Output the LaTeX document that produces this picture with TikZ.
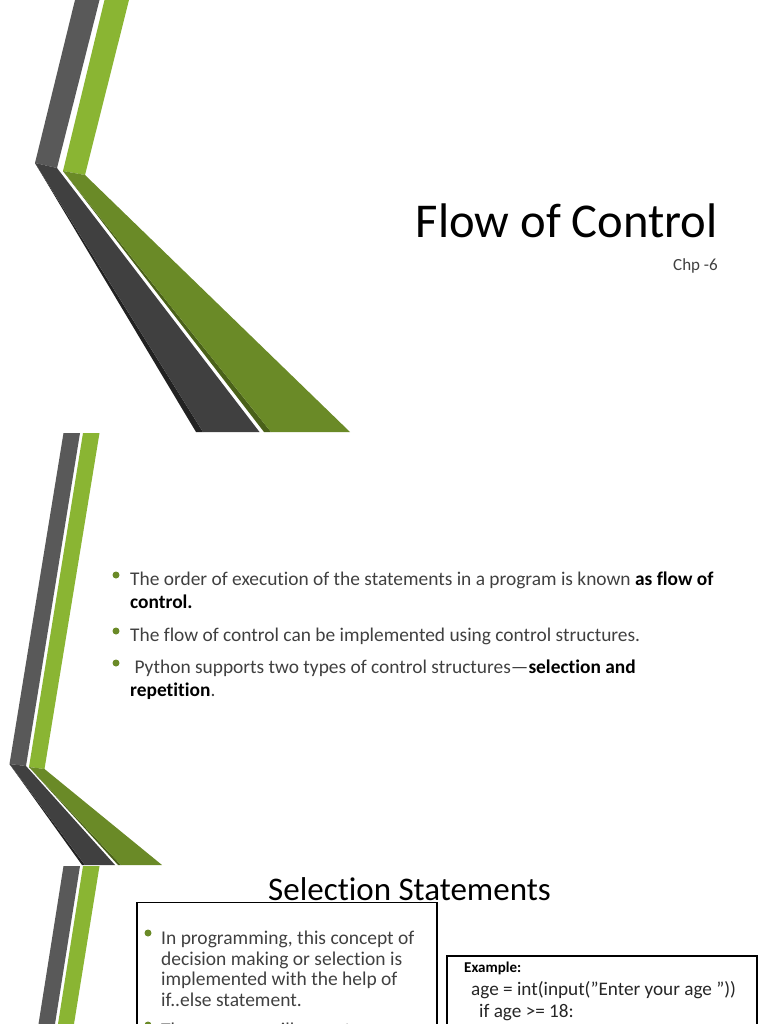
\documentclass[tikz,border=0pt]{standalone}
\usepackage{fontspec}
\defaultfontfeatures{}
\setmainfont{Carlito}[Ligatures=NoCommon]
\definecolor{gA}{HTML}{595959}
\definecolor{gB}{HTML}{404040}
\definecolor{gC}{HTML}{222222}
\definecolor{lA}{HTML}{8AB533}
\definecolor{lB}{HTML}{6A8A27}
\definecolor{lC}{HTML}{4A6119}
\definecolor{txt}{HTML}{404040}
\tikzset{
  x=1pt,y=-1pt,
  bodytext/.style={anchor=base west,inner sep=0pt,text=txt,font=\fontsize{19.4}{22}\selectfont},
  boxtext/.style={anchor=base west,inner sep=0pt,text=txt,font=\fontsize{19.5}{22}\selectfont},
  codetext/.style={anchor=base west,inner sep=0pt,text=black!85,font=\fontsize{19.2}{22}\selectfont},
  bul/.style={circle,fill=lB,inner sep=0pt,minimum size=7pt},
  framebox/.style={draw=black,line width=1.6pt}
}
\begin{document}
\begin{tikzpicture}
\useasboundingbox (0,0) rectangle (768,1024);
\clip (0,0) rectangle (768,1024);
% slide 1 ribbon
\fill[gA] (75,0)--(99.5,0)--(57,168)--(35,163)--cycle;
\fill[lA] (104.5,0)--(129,0)--(85,175)--(63,171)--cycle;
\fill[gC] (35,163)--(203,432)--(196,432)--cycle;
\fill[gB] (35,163)--(57,168)--(259.5,432)--(203,432)--cycle;
\fill[lC] (63,171)--(264,432)--(271,432)--cycle;
\fill[lB] (63,171)--(85,175)--(350,432)--(271,432)--cycle;
% slide 2 ribbon
\fill[gA] (63.5,433)--(80,433)--(26,766)--(9.5,764)--cycle;
\fill[lA] (83,433)--(99.5,433)--(44.5,769)--(29,767)--cycle;
\fill[gC] (9.5,764)--(85,865)--(82,865)--cycle;
\fill[gB] (9.5,764)--(26,766)--(115,865)--(85,865)--cycle;
\fill[lC] (29,767)--(118,865)--(121,865)--cycle;
\fill[lB] (29,767)--(44.5,769)--(162,865)--(121,865)--cycle;
% slide 3 ribbon
\fill[gA] (63.5,866)--(80,866)--(55,1024)--(38.5,1024)--cycle;
\fill[lA] (83,866)--(99.5,866)--(74,1024)--(58,1024)--cycle;
% titles
\node[anchor=base east,inner sep=0pt,text=black,font=\fontsize{48.6}{50}\selectfont] (t1) at (718,237) {Flow of Control};
\node[anchor=base east,inner sep=0pt,text=txt,font=\fontsize{17}{20}\selectfont] (t2) at (718,270) {Chp -6};
% bullets slide 2
\node[bul] (b1) at (116,575) {};
\node[bul] (b2) at (116,631) {};
\node[bul] (b3) at (116,663) {};
\node[bodytext] (l1) at (130,585) {The order of execution of the statements in a program is known \textcolor{black}{\textbf{as flow of}}};
\node[bodytext] (l2) at (130,608) {\textcolor{black}{\textbf{control.}}};
\node[bodytext] (l3) at (130,641) {The flow of control can be implemented using control structures.};
\node[bodytext] (l4) at (130,673) {\ Python supports two types of control structures—\textcolor{black}{\textbf{selection and}}};
\node[bodytext] (l5) at (130,696) {\textcolor{black}{\textbf{repetition}}.};
% slide 3
\node[anchor=base,inner sep=0pt,text=black,font=\fontsize{33}{35}\selectfont] (t3) at (409.5,900) {Selection Statements};
\draw[framebox] (137,902.5) rectangle (437,1040);
\node[bul] (b4) at (148,933) {};
\node[boxtext] (m1) at (161,944) {In programming, this concept of};
\node[boxtext] (m2) at (161,965) {decision making or selection is};
\node[boxtext] (m3) at (161,985) {implemented with the help of};
\node[boxtext] (m4) at (161,1006) {if..else statement.};
\node[bul] (b5) at (148,1025) {};
\node[boxtext] (m5) at (161,1036) {The program will execute};
\draw[framebox] (447,956) rectangle (757,1040);
\node[anchor=base west,inner sep=0pt,text=black,font=\bfseries\fontsize{15}{18}\selectfont] (e0) at (464,972) {Example:};
\node[codetext] (e1) at (471,995) {age = int(input("Enter your age "))};
\node[codetext] (e2) at (479,1017) {if age >= 18:};
\end{tikzpicture}
\end{document}
